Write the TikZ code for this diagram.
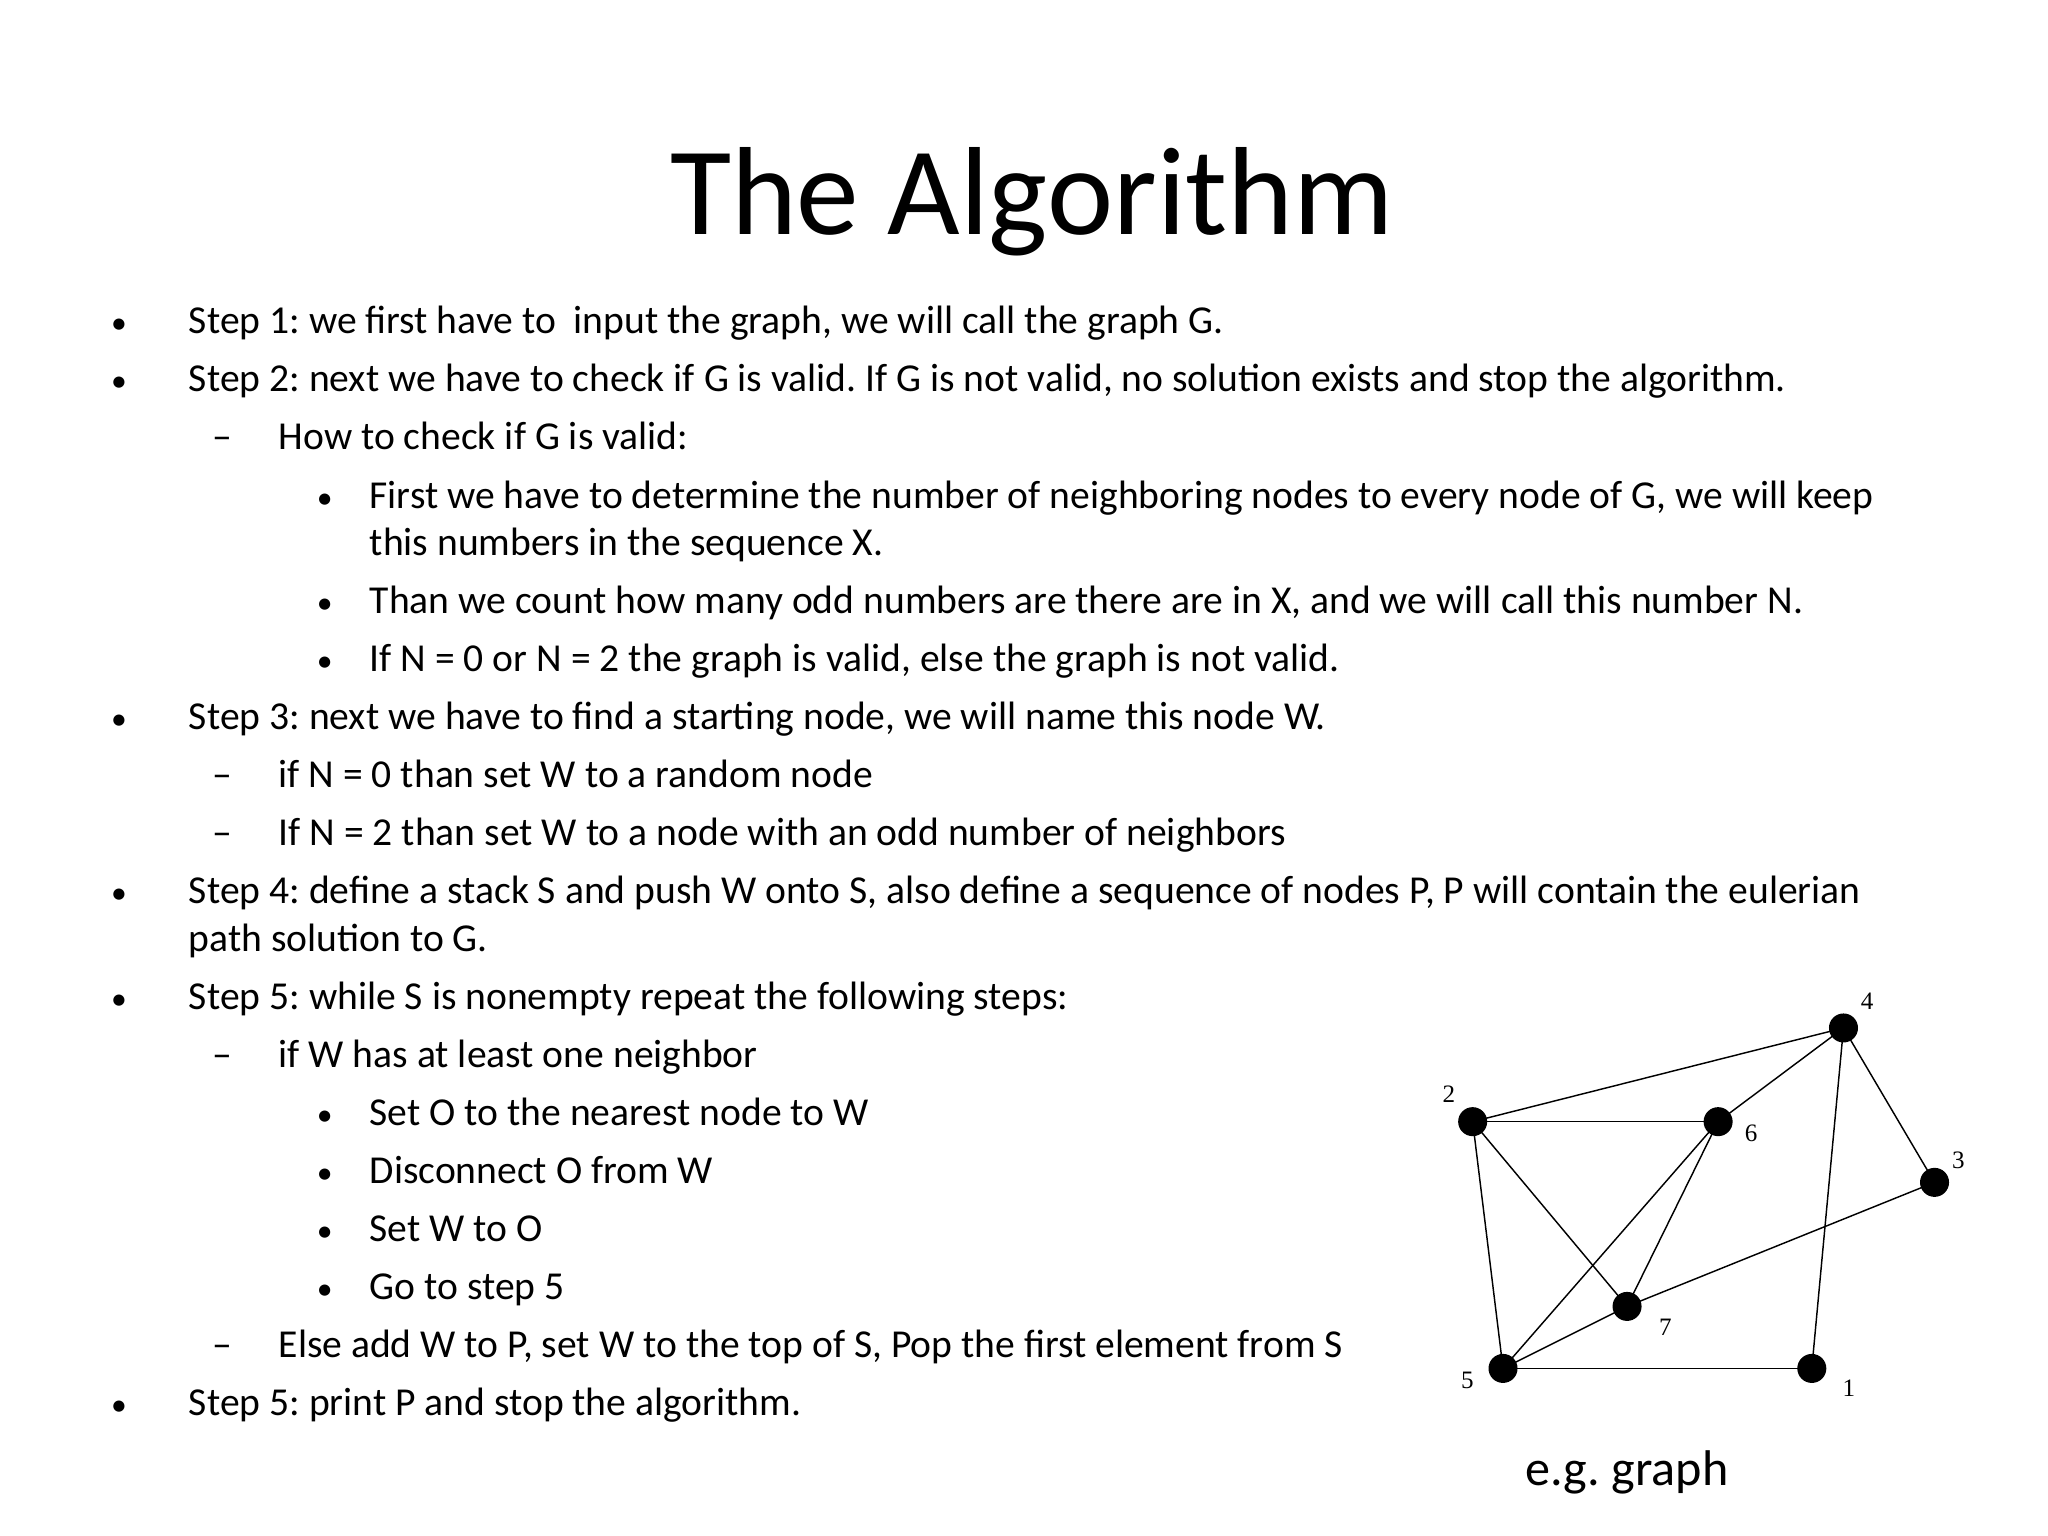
\documentclass[tikz,border=0pt]{standalone}
\usepackage{fontspec}
\setmainfont{Carlito}
\newfontfamily\lab{Liberation Serif}
\frenchspacing
\begin{document}
\begin{tikzpicture}[x=1pt,y=-1pt,
  txt/.style={anchor=base west,font=\fontsize{30}{36}\selectfont,inner sep=0},
  bul/.style={anchor=base west,font=\fontsize{24}{30}\selectfont,inner sep=0},
  vx/.style={circle,fill=black,minimum size=22,inner sep=0},
  nl/.style={font=\lab\fontsize{19}{19}\selectfont,inner sep=1},
  ed/.style={line width=1.1pt}]
\useasboundingbox (0,0) rectangle (1552,1164);
\node[font=\fontsize{95}{95}\selectfont,anchor=base] (title) at (782,178) {The Algorithm};
\def\B#1#2#3{\node[bul] (b#1) at (84,#2) {•}; \node[txt] (t#1) at (143,#2) {#3};}
\def\D#1#2#3{\node[txt] (d#1) at (161,#2) {–}; \node[txt] (t#1) at (211,#2) {#3};}
\def\S#1#2#3{\node[bul] (s#1) at (240,#2) {•}; \node[txt] (t#1) at (280,#2) {#3};}
\B{1}{253}{Step 1: we first have to\ \ input the graph, we will call the graph G.}
\B{2}{297}{Step 2: next we have to check if G is valid. If G is not valid, no solution exists and stop the algorithm.}
\D{3}{341}{How to check if G is valid:}
\S{4}{385}{First we have to determine the number of neighboring nodes to every node of G, we will keep}
\node[txt] (t4b) at (280,421) {this numbers in the sequence X.};
\S{5}{465}{Than we count how many odd numbers are there are in X, and we will call this number N.}
\S{6}{509}{If N = 0 or N = 2 the graph is valid, else the graph is not valid.}
\B{7}{553}{Step 3: next we have to find a starting node, we will name this node W.}
\D{8}{597}{if N = 0 than set W to a random node}
\D{9}{641}{If N = 2 than set W to a node with an odd number of neighbors}
\B{10}{685}{Step 4: define a stack S and push W onto S, also define a sequence of nodes P, P will contain the eulerian}
\node[txt] (t10b) at (143,721) {path solution to G.};
\B{11}{765}{Step 5: while S is nonempty repeat the following steps:}
\D{12}{809}{if W has at least one neighbor}
\S{13}{853}{Set O to the nearest node to W}
\S{14}{897}{Disconnect O from W}
\S{15}{941}{Set W to O}
\S{16}{985}{Go to step 5}
\D{17}{1029}{Else add W to P, set W to the top of S, Pop the first element from S}
\B{18}{1073}{Step 5: print P and stop the algorithm.}
% graph
\node[vx] (n4) at (1397,779) {};
\node[vx] (n2) at (1116,850) {};
\node[vx] (n6) at (1302,850) {};
\node[vx] (n3) at (1466,896) {};
\node[vx] (n7) at (1233,990) {};
\node[vx] (n5) at (1139,1037) {};
\node[vx] (n1) at (1373,1037) {};
\foreach \a/\b in {2/4,2/6,6/4,4/3,4/1,2/5,2/7,6/5,6/7,3/7,7/5,5/1}
  \draw[ed] (n\a.center) -- (n\b.center);
\node[nl] (l4) at (1415,759) {4};
\node[nl] (l2) at (1098,829) {2};
\node[nl] (l6) at (1327,859) {6};
\node[nl] (l3) at (1484,879) {3};
\node[nl] (l7) at (1262,1006) {7};
\node[nl] (l5) at (1112,1046) {5};
\node[nl] (l1) at (1401,1052) {1};
\node[font=\fontsize{38}{38}\selectfont,anchor=base] (cap) at (1233,1126) {e.g. graph};
\end{tikzpicture}
\end{document}
